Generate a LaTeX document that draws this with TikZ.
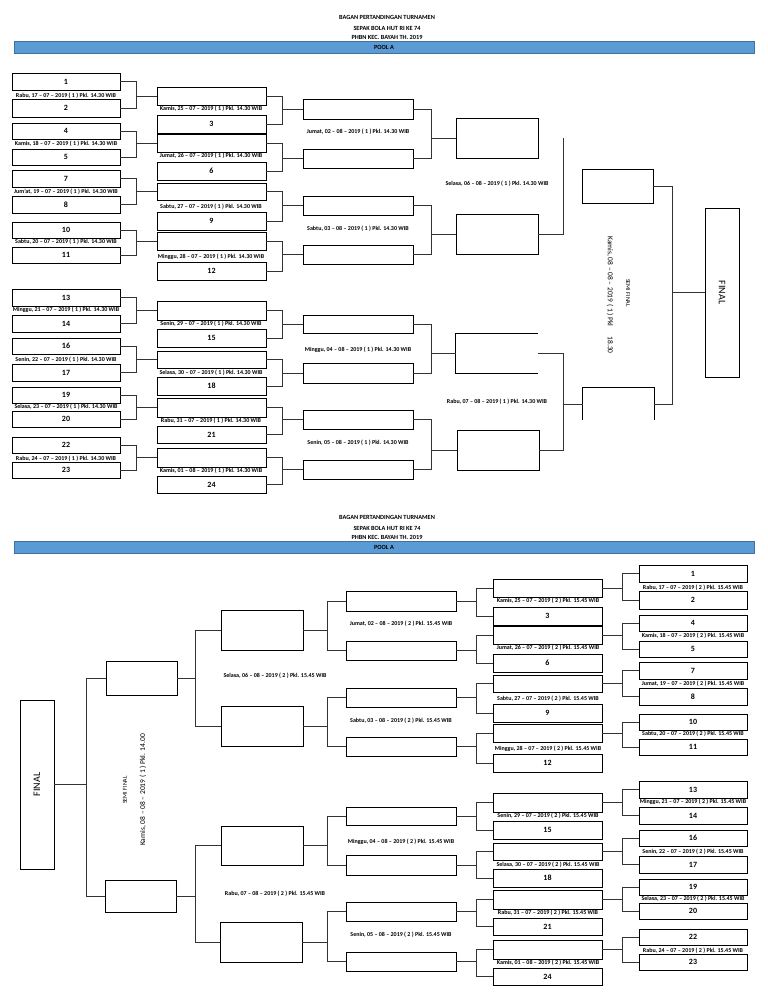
\documentclass[tikz,border=0pt]{standalone}
\usepackage{fontspec}
\setmainfont{Carlito}
\usetikzlibrary{calc}
\definecolor{barblue}{RGB}{91,155,213}
\definecolor{barline}{RGB}{65,113,156}
\tikzset{
  box/.style={draw,line width=0.9pt,inner sep=0pt,font=\fontsize{8}{8}\selectfont\bfseries},
  obox/.style={draw=none,inner sep=0pt},
  conn/.style={line width=0.6pt,draw=black!80},
  lbl/.style={inner sep=0pt,font=\fontsize{6}{6}\selectfont\bfseries},
  hdr/.style={inner sep=0pt,font=\fontsize{6.3}{6.3}\selectfont\bfseries},
}
\newif\ifopenstyle
\newcommand\bx[6]{\node[box,minimum width={#4-#2},minimum height={#5-#3}] (\p#1) at ({(#2+#4)/2},{(#3+#5)/2}) {#6};}
\newcommand\obx[5]{\node[obox,minimum width={#4-#2},minimum height={#5-#3}] (\p#1) at ({(#2+#4)/2},{(#3+#5)/2}) {};}
\newcommand\lb[4]{\node[lbl] (\p#1) at (#2,#3) {#4};}
\newcommand\jn[4]{%
  \path (\p#1.\sa) ++(#4,0) coordinate (\p#1v);
  \draw[conn] (\p#1.\sa) -- (\p#1v) |- (\p#2.\sa);
  \draw[conn] (\p#3.\sb) -- (\p#3.\sb -| \p#1v);}
\newcommand\bracket{%
  % round 1
  \bx{b1}{12}{73}{120}{90}{1}\bx{b2}{12}{99}{120}{117}{2}
  \bx{b4}{12}{123}{120}{139}{4}\bx{b5}{12}{149}{120}{165}{5}
  \bx{b7}{12}{170}{120}{187}{7}\bx{b8}{12}{196}{120}{213}{8}
  \bx{b10}{12}{222}{120}{238}{10}\bx{b11}{12}{247}{120}{263}{11}
  \bx{b13}{12}{289}{120}{306}{13}\bx{b14}{12}{315}{120}{332}{14}
  \bx{b16}{12}{338}{120}{354}{16}\bx{b17}{12}{364}{120}{381}{17}
  \bx{b19}{12}{387}{120}{403}{19}\bx{b20}{12}{411}{120}{427}{20}
  \bx{b22}{12}{437}{120}{453}{22}\bx{b23}{12}{462}{120}{478}{23}
  % round 2
  \bx{a3}{157}{87}{266}{105}{}\bx{b3}{157}{115}{266}{133}{3}
  \bx{a6}{157}{134}{266}{152}{}\bx{b6}{157}{162}{266}{180}{6}
  \bx{a9}{157}{183}{266}{200}{}\bx{b9}{157}{212}{266}{230}{9}
  \bx{a12}{157}{232}{266}{250}{}\bx{b12}{157}{262}{266}{280}{12}
  \bx{a15}{157}{301}{266}{320}{}\bx{b15}{157}{329}{266}{347}{15}
  \bx{a18}{157}{351}{266}{368}{}\bx{b18}{157}{377}{266}{395}{18}
  \bx{a21}{157}{398}{266}{417}{}\bx{b21}{157}{426}{266}{443}{21}
  \bx{a24}{157}{448}{266}{467}{}\bx{b24}{157}{476}{266}{493}{24}
  % round 3
  \bx{q1}{303}{99}{413}{119}{}\bx{q2}{303}{149}{413}{168}{}
  \bx{q3}{303}{196}{413}{215}{}\bx{q4}{303}{245}{413}{264}{}
  \bx{q5}{303}{315}{413}{333}{}\bx{q6}{303}{363}{413}{383}{}
  \bx{q7}{303}{410}{413}{429}{}\bx{q8}{303}{460}{413}{479}{}
  % round 4, semi, final
  \bx{r4a}{456}{118}{538}{158}{}\bx{r4b}{456}{214}{538}{254}{}
  \bx{r4d}{457}{430}{539}{470}{}
  \bx{sfa}{582}{169}{653}{203}{}
  \bx{fin}{705}{208}{739}{377}{}
  \ifopenstyle
    \obx{r4c}{456}{334}{538}{373}
    \draw[line width=0.9pt] (\p r4c.north east) -- (\p r4c.north west) -- (\p r4c.south west) -- (\p r4c.south east);
    \obx{sfb}{583}{388}{654}{420}
    \draw[line width=0.9pt] (\p sfb.south west) -- (\p sfb.north west) -- (\p sfb.north east) -- (\p sfb.south east);
  \else
    \bx{r4c}{456}{334}{538}{373}{}
    \bx{sfb}{583}{388}{654}{420}{}
  \fi
  % joins
  \jn{b1}{b2}{a3}{16}\jn{b4}{b5}{a6}{16}\jn{b7}{b8}{a9}{16}\jn{b10}{b11}{a12}{16}
  \jn{b13}{b14}{a15}{16}\jn{b16}{b17}{a18}{16}\jn{b19}{b20}{a21}{16}\jn{b22}{b23}{a24}{16}
  \jn{a3}{b3}{q1}{16}\jn{a6}{b6}{q2}{16}\jn{a9}{b9}{q3}{16}\jn{a12}{b12}{q4}{16}
  \jn{a15}{b15}{q5}{16}\jn{a18}{b18}{q6}{16}\jn{a21}{b21}{q7}{16}\jn{a24}{b24}{q8}{16}
  \jn{q1}{q2}{r4a}{18}\jn{q3}{q4}{r4b}{18}\jn{q5}{q6}{r4c}{18}\jn{q7}{q8}{r4d}{18}
  \jn{r4c}{r4d}{sfb}{25}
  \ifopenstyle
    \path (\p r4b.\sa) ++(25,0) coordinate (\p r4bv);
    \draw[conn] (\p r4b.\sa) -- (\p r4bv) -- ++(0,-96);
  \else
    \jn{r4a}{r4b}{sfa}{25}
  \fi
  \jn{sfa}{sfb}{fin}{19}
  % labels
  \lb{l1}{66}{96}{Rabu, 17 – 07 – 2019 ( \rnd\ ) Pkl. \tm\ WIB}
  \lb{l2}{66}{144}{Kamis, 18 – 07 – 2019 ( \rnd\ ) Pkl. \tm\ WIB}
  \lb{l3}{66}{192}{\jm, 19 – 07 – 2019 ( \rnd\ ) Pkl. \tm\ WIB}
  \lb{l4}{66}{242}{Sabtu, 20 – 07 – 2019 ( \rnd\ ) Pkl. \tm\ WIB}
  \lb{l5}{66}{310}{Minggu, 21 – 07 – 2019 ( \rnd\ ) Pkl. \tm\ WIB}
  \lb{l6}{66}{360}{Senin, 22 – 07 – 2019 ( \rnd\ ) Pkl. \tm\ WIB}
  \lb{l7}{66}{407}{Selasa, 23 – 07 – 2019 ( \rnd\ ) Pkl. \tm\ WIB}
  \lb{l8}{66}{459}{Rabu, 24 – 07 – 2019 ( \rnd\ ) Pkl. \tm\ WIB}
  \lb{m1}{211}{109}{Kamis, 25 – 07 – 2019 ( \rnd\ ) Pkl. \tm\ WIB}
  \lb{m2}{211}{156}{Jumat, 26 – 07 – 2019 ( \rnd\ ) Pkl. \tm\ WIB}
  \lb{m3}{211}{207}{Sabtu, 27 – 07 – 2019 ( \rnd\ ) Pkl. \tm\ WIB}
  \lb{m4}{211}{257}{Minggu, 28 – 07 – 2019 ( \rnd\ ) Pkl. \tm\ WIB}
  \lb{m5}{211}{324}{Senin, 29 – 07 – 2019 ( \rnd\ ) Pkl. \tm\ WIB}
  \lb{m6}{211}{373}{Selasa, 30 – 07 – 2019 ( \rnd\ ) Pkl. \tm\ WIB}
  \lb{m7}{211}{421}{Rabu, 31 – 07 – 2019 ( \rnd\ ) Pkl. \tm\ WIB}
  \lb{m8}{211}{471}{Kamis, 01 – 08 – 2019 ( \rnd\ ) Pkl. \tm\ WIB}
  \lb{n1}{358}{132}{Jumat, 02 – 08 – 2019 ( \rnd\ ) Pkl. \tm\ WIB}
  \lb{n2}{358}{229}{Sabtu, 03 – 08 – 2019 ( \rnd\ ) Pkl. \tm\ WIB}
  \lb{n3}{358}{350}{Minggu, 04 – 08 – 2019 ( \rnd\ ) Pkl. \tm\ WIB}
  \lb{n4}{358}{443}{Senin, 05 – 08 – 2019 ( \rnd\ ) Pkl. \tm\ WIB}
  \lb{o1}{\rfx}{184}{Selasa, 06 – 08 – 2019 ( \rnd\ ) Pkl. \tm\ WIB}
  \lb{o2}{\rfx}{402}{Rabu, 07 – 08 – 2019 ( \rnd\ ) Pkl. \tm\ WIB}
}
\begin{document}
\begin{tikzpicture}[x=1pt,y=-1pt]
\useasboundingbox (0,0) rectangle (768,1002);
\fill[white] (0,0) rectangle (768,1002);
% headers
\foreach \dy/\nm in {0/t,500/u}{
  \node[hdr] (\nm h1) at (387,17+\dy) {BAGAN PERTANDINGAN TURNAMEN};
  \node[hdr] (\nm h2) at (387,28+\dy) {SEPAK BOLA HUT RI KE 74};
  \node[hdr] (\nm h3) at (387,37.5+\dy) {PHBN KEC. BAYAH TH. 2019};
  \draw[fill=barblue,draw=barline,line width=0.6pt] (14,41+\dy) rectangle (754,53+\dy);
  \node[hdr] (\nm pool) at (384,47+\dy) {POOL A};
}
% top half
\def\p{t}\def\sa{east}\def\sb{west}\def\rnd{1}\def\tm{14.30}\def\jm{Jum’at}\def\rfx{497}
\openstyletrue
\bracket
\node[inner sep=0pt,rotate=-90,font=\fontsize{10}{10}\selectfont] (tfint) at (tfin) {FINAL};
\node[inner sep=0pt,rotate=-90,font=\fontsize{6}{6}\selectfont] (tsemi) at (628,293) {SEMI FINAL};
\node[inner sep=0pt,rotate=-90,font=\fontsize{7.5}{7.5}\selectfont] (tsemid) at (610,295) {Kamis, 08 – 08 – 2019 ( 1 ) Pkl\hspace{10pt}18.30};
% bottom half
\begin{scope}[shift={(759,492)},xscale=-1]
\def\p{u}\def\sa{west}\def\sb{east}\def\rnd{2}\def\tm{15.45}\def\jm{Jumat}\def\rfx{484}
\openstylefalse
\bracket
\end{scope}
\node[inner sep=0pt,rotate=90,font=\fontsize{10}{10}\selectfont] (ufint) at (ufin) {FINAL};
\node[inner sep=0pt,rotate=90,font=\fontsize{6}{6}\selectfont] (usemi) at (125,790) {SEMI FINAL};
\node[inner sep=0pt,rotate=90,font=\fontsize{7.5}{7.5}\selectfont] (usemid) at (143,790) {Kamis, 08 – 08 – 2019 ( 1 ) Pkl. 14.00};
\end{tikzpicture}
\end{document}
